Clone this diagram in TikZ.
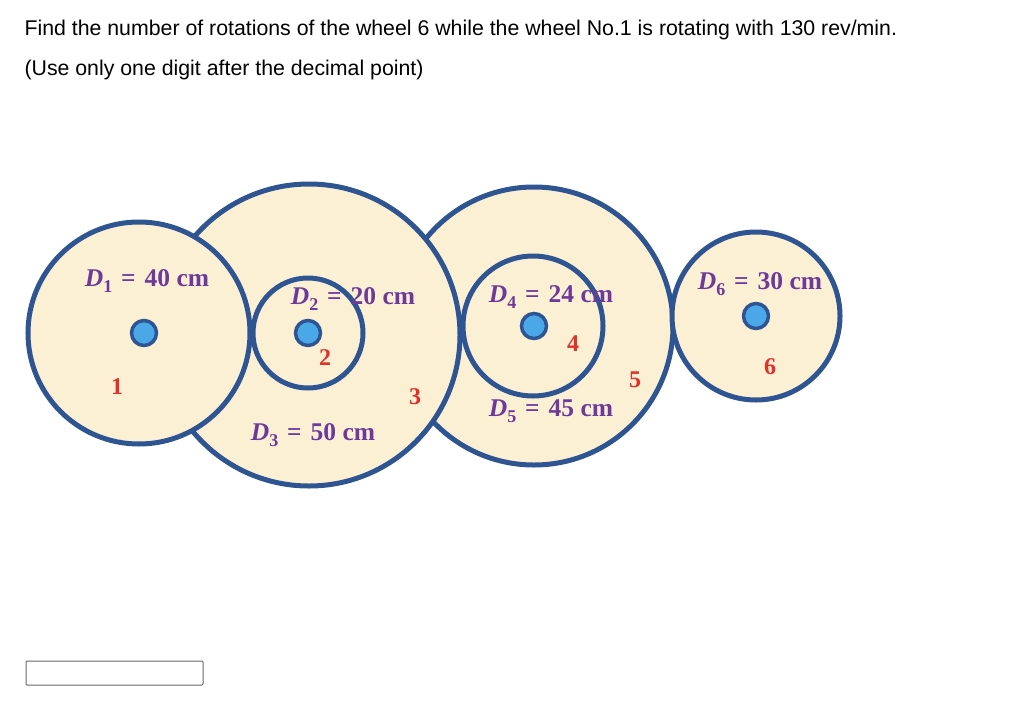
\documentclass[tikz,border=0pt]{standalone}
\usepackage{fontspec}
\setmainfont{Liberation Serif}
\newfontfamily\qfont{Liberation Sans}
\definecolor{rim}{HTML}{2E5591}
\definecolor{cream}{HTML}{FCF0D4}
\definecolor{dotc}{HTML}{4BA8E8}
\definecolor{purp}{HTML}{6B3A9A}
\definecolor{redn}{HTML}{E0302A}
\newcommand{\dlab}[2]{\textbf{\textit{D}\raisebox{-0.25em}{\fontsize{18}{18}\selectfont #1}\hspace{0.35em}=\hspace{0.35em}#2\hspace{0.25em}cm}}
\begin{document}
\begin{tikzpicture}[x=1pt,y=-1pt,
  wheel/.style={draw=rim,fill=cream,line width=5pt},
  ring/.style={draw=rim,line width=5pt},
  hub/.style={circle,draw=rim,fill=dotc,line width=3.5pt,minimum size=25pt,inner sep=0pt},
  dl/.style={text=purp,font=\fontsize{25.5}{27}\selectfont},
  num/.style={text=redn,font=\fontsize{24}{24}\selectfont\bfseries},
  qt/.style={anchor=west,font=\qfont\fontsize{21.3}{24}\selectfont}]
\useasboundingbox (0,0) rectangle (1024,709);
\node[qt] (q1) at (21,30) {Find the number of rotations of the wheel 6 while the wheel No.1 is rotating with 130 rev/min.};
\node[qt] (q2) at (21,70) {(Use only one digit after the decimal point)};
% wheels
\draw[wheel] (534,326) circle (139);
\draw[ring] (533,326) circle (70);
\draw[wheel] (309,335) circle (151);
\draw[ring] (308,333) circle (55);
\draw[wheel] (139,333) circle (111);
\draw[wheel] (756,316) circle (84);
\node[hub] (h1) at (144,333) {};
\node[hub] (h2) at (308,333) {};
\node[hub] (h4) at (534,326) {};
\node[hub] (h6) at (756,316) {};
% labels
\node[dl] (l1) at (147,281) {\dlab{1}{40}};
\node[dl] (l2) at (353,299) {\dlab{2}{20}};
\node[dl] (l3) at (313,435) {\dlab{3}{50}};
\node[dl] (l4) at (551,297) {\dlab{4}{24}};
\node[dl] (l5) at (551,411) {\dlab{5}{45}};
\node[dl] (l6) at (760,284) {\dlab{6}{30}};
\node[num] (n1) at (117,387) {1};
\node[num] (n2) at (325,358) {2};
\node[num] (n3) at (415,397) {3};
\node[num] (n4) at (573,344) {4};
\node[num] (n5) at (635,380) {5};
\node[num] (n6) at (770,367) {6};
\draw[draw=gray!80!black,line width=1pt,rounded corners=1pt] (26,661) rectangle (203,685);
\end{tikzpicture}
\end{document}
